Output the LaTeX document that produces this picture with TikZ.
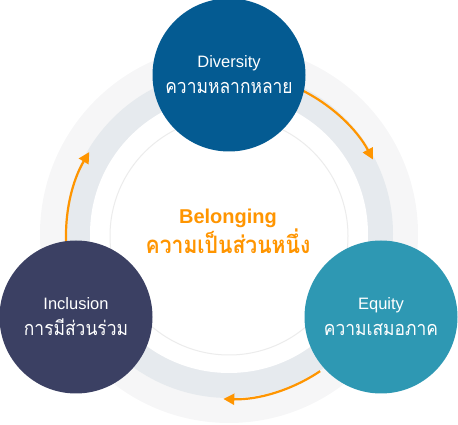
\documentclass[tikz,border=0pt]{standalone}
\usepackage{fontspec}
\setmainfont{Liberation Sans}
\newfontfamily\thai[Script=Thai, Scale=1.2, FakeStretch=0.88]{Loma}
\usetikzlibrary{arrows.meta}

\definecolor{divblue}{HTML}{045B92}
\definecolor{incnavy}{HTML}{3B4063}
\definecolor{equteal}{HTML}{2E98B3}
\definecolor{belorange}{HTML}{FF9500}
\definecolor{bandlight}{HTML}{F6F6F7}
\definecolor{banddark}{HTML}{E6EAEE}
\definecolor{ringline}{HTML}{ECECEC}

\tikzset{
  pillar/.style={circle, minimum size=153pt, inner sep=0pt, text=white, align=center, font=\fontsize{16.5}{26}\selectfont},
  flow/.style={belorange, line width=2.2pt, -{Triangle[length=11pt,width=11pt]}}
}

\begin{document}
\begin{tikzpicture}[x=1pt, y=1pt]
    \useasboundingbox (0,0) rectangle (458,425);
    \coordinate (ring) at (229,191);
    \coordinate (hub) at (229,189);

    % Background bands
    \fill[bandlight] (ring) circle (189pt);
    \fill[banddark] (ring) circle (164pt);
    \fill[white] (ring) circle (139pt);
    \draw[ringline, line width=1pt] (hub) circle (119pt);

    % Cycle arrows
    \draw[flow] ([shift={(64:163pt)}]hub) arc (64:28:163pt);
    \draw[flow] ([shift={(-56:163pt)}]hub) arc (-56:-92:163pt);
    \draw[flow] ([shift={(184:163pt)}]hub) arc (184:149:163pt);

    % Pillars
    \node[pillar, fill=divblue] (diversity) at (229,350) {Diversity\\{\thai ความหลากหลาย}};
    \node[pillar, fill=incnavy] (inclusion) at (76,108) {Inclusion\\{\thai การมีส่วนร่วม}};
    \node[pillar, fill=equteal] (equity) at (381,108) {Equity\\{\thai ความเสมอภาค}};

    % Centre label
    \node[text=belorange, align=center, font=\bfseries\fontsize{20}{26}\selectfont] (belonging) at (228,194) {Belonging\\{\thai ความเป็นส่วนหนึ่ง}};
\end{tikzpicture}
\end{document}
